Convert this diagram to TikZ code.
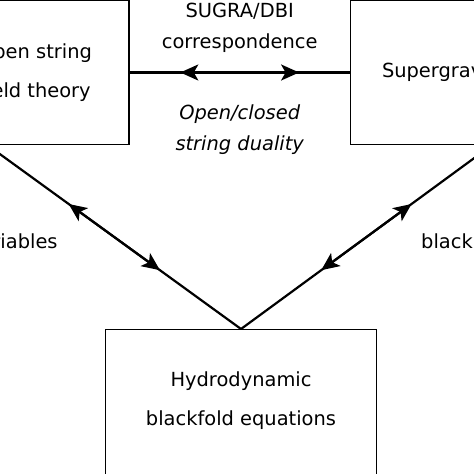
\documentclass[tikz,border=0pt]{standalone}
\usepackage{fontspec}
\setmainfont{DejaVu Sans}
\usetikzlibrary{positioning,calc,arrows.meta}

\tikzset{
  box/.style={draw, line width=1.4bp, minimum width=188bp, align=center,
    font=\fontsize{19.5}{39}\selectfont},
  lbl/.style={inner sep=0pt, align=center, font=\fontsize{19.5}{31}\selectfont},
  conn/.style={line width=2.2bp},
  twohead/.style={conn, {Stealth[length=18bp,width=16bp,inset=4.5bp]}-{Stealth[length=18bp,width=16bp,inset=4.5bp]}}
}

\begin{document}
\begin{tikzpicture}[x=1bp, y=-1bp]
    \clip (0,0) rectangle (474,474);
    \node[box, minimum height=144bp] (lbox) at (35,72.5) {Open string\\field theory};
    \node[box, minimum height=144bp, right = 220bp of lbox] (rbox) {Supergravity};
    \node[box, minimum width=271bp, minimum height=180bp, text depth=43bp, anchor=north] (hydro) at (241,329) {Hydrodynamic\\blackfold equations};
    \coordinate (lfoot) at ($(lbox.south west)!0.25!(lbox.south east)$);
    \coordinate (rfoot) at ($(rbox.south west)!0.75!(rbox.south east)$);
    %
    \draw[conn] (lbox) -- node[lbl, above=19bp, midway]{SUGRA/DBI\\correspondence}
      node[lbl, below=31bp, midway, font=\fontsize{19.5}{31}\selectfont\itshape]{Open/closed\\string duality} (rbox);
    \draw[conn] (lfoot) -- node[lbl, pos=0.525, left=62bp]{variables} (hydro.north);
    \draw[conn] (rfoot) -- node[lbl, pos=0.525, right=60bp]{black} (hydro.north);
    %
    \draw[twohead] ($(lbox.east)!0.23!(rbox.west)$) -- ($(lbox.east)!0.77!(rbox.west)$);
    \draw[twohead] ($(lfoot)!0.32!(hydro.north)$) -- ($(lfoot)!0.68!(hydro.north)$);
    \draw[twohead] ($(rfoot)!0.32!(hydro.north)$) -- ($(rfoot)!0.68!(hydro.north)$);
\end{tikzpicture}
\end{document}
